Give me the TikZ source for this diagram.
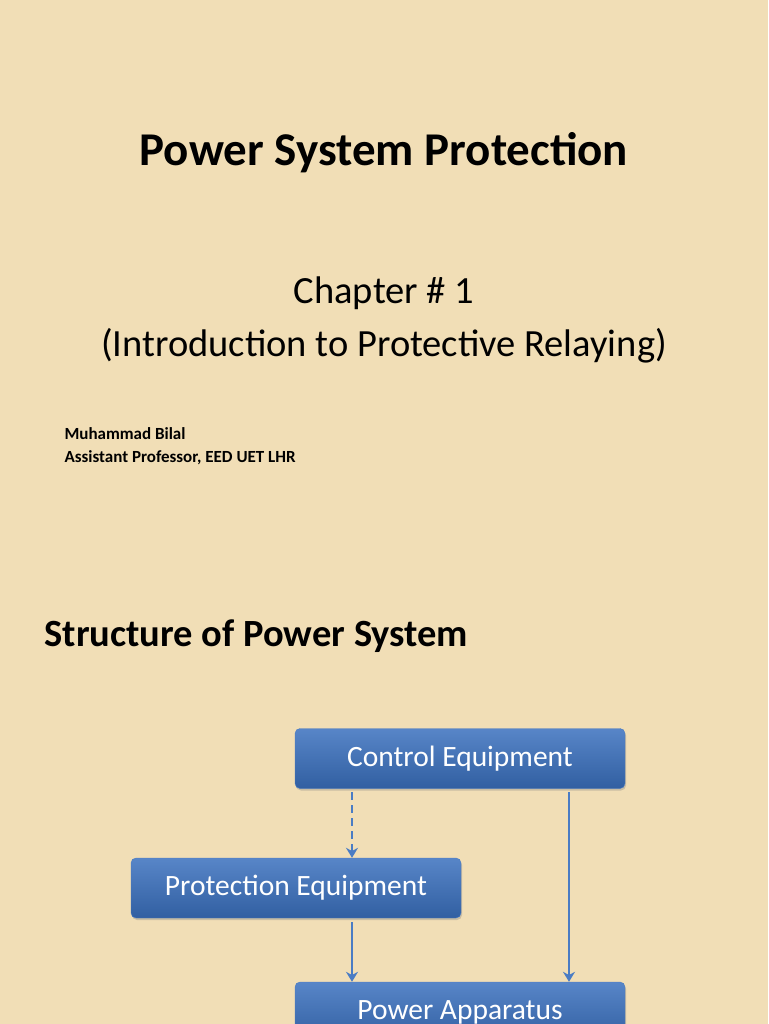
\documentclass[tikz,border=0pt]{standalone}
\usepackage{fontspec}
\setmainfont{Carlito}
\usetikzlibrary{arrows.meta,shadows}
\definecolor{bg}{HTML}{F1DEB6}
\definecolor{boxblue}{HTML}{3A70BE}
\definecolor{boxedge}{HTML}{4A7CC4}
\definecolor{arr}{HTML}{4A7CC4}
\tikzset{x=1pt,y=-1pt,
 blk/.style={draw=boxedge,rounded corners=5pt,minimum width=330pt,minimum height=60pt,
   top color=boxblue!85!white,bottom color=boxblue!85!black,text=white,font=\fontsize{29.5}{34}\selectfont,
   drop shadow={opacity=0.35,shadow xshift=1pt,shadow yshift=-2pt}},
 conn/.style={draw=arr,line width=2.5pt,-{Stealth[length=10pt,width=12pt]}}}
\begin{document}
\begin{tikzpicture}
\useasboundingbox (0,0) rectangle (768,1024);
\clip (0,0) rectangle (768,1024);
\fill[bg] (0,0) rectangle (768,1024);
\node[font=\fontsize{47}{54}\selectfont\bfseries] (title) at (384,153) {Power System Protection};
\node[font=\fontsize{38.5}{44}\selectfont] (ch) at (384,293) {Chapter \# 1};
\node[font=\fontsize{38.5}{44}\selectfont] (intro) at (384,346) {(Introduction to Protective Relaying)};
\node[font=\fontsize{17}{23}\selectfont\bfseries,anchor=west,align=left] (auth) at (61,446) {Muhammad Bilal\\Assistant Professor, EED UET LHR};
\node[font=\fontsize{38.5}{44}\selectfont\bfseries,anchor=west] (struct) at (41,636) {Structure of Power System};
\node[blk] (ce) at (460,758.5) {Control Equipment};
\node[blk] (pe) at (296,888) {Protection Equipment};
\node[blk] (pa) at (460,1012) {Power Apparatus};
\coordinate (c1) at (352,792);
\coordinate (c2) at (569,792);
\coordinate (p1) at (352,922);
\draw[conn,dashed,dash pattern=on 8pt off 5pt] (c1) -- (c1 |- pe.north);
\draw[conn] (p1) -- (p1 |- pa.north);
\draw[conn] (c2) -- (c2 |- pa.north);
\end{tikzpicture}
\end{document}
